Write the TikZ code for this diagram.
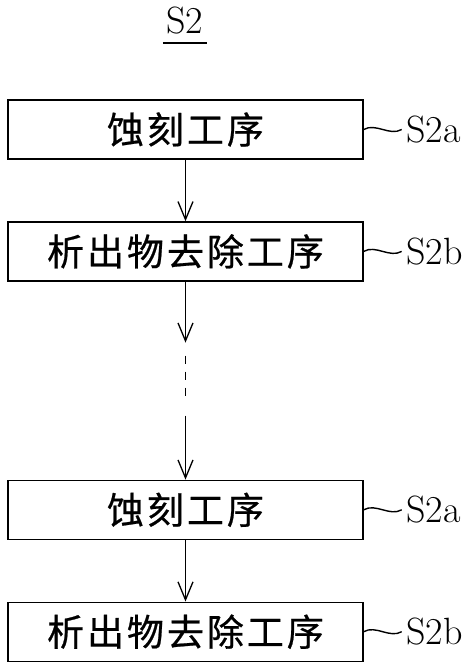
\documentclass[tikz,border=0pt]{standalone}
\usepackage{fontspec}
\newfontfamily\cjk[LetterSpace=8,FakeBold=0.6]{Noto Sans CJK SC}
\usetikzlibrary{arrows.meta,positioning}

\begin{document}
\begin{tikzpicture}
    [x=1pt,y=1pt,line width=1.4pt,>={Straight Barb[length=18pt,width=15pt,line width=1.3pt]},
     stepbox/.style={draw,minimum width=355pt,minimum height=59pt,inner sep=0pt,
       font=\cjk\fontsize{37}{37}\selectfont},
     tag/.style={inner sep=0pt,font=\fontsize{38}{38}\selectfont}]
    \useasboundingbox (0,0) rectangle (474,-665);
    \node (title) [inner sep=0pt,font=\fontsize{38}{38}\selectfont] at (185,-21) {S2};
    \draw ([xshift=-3pt,yshift=-9pt]title.base west) -- ([xshift=3pt,yshift=-9pt]title.base east);

    \begin{scope}[node distance=61.5pt]
      \node[stepbox] (e1) at (185.5,-129.5) {蚀刻工序};
      \node[stepbox] (r1) [below=of e1] {析出物去除工序};
      \node[stepbox] (e2) [below=198pt of r1] {蚀刻工序};
      \node[stepbox] (r2) [below=of e2] {析出物去除工序};
    \end{scope}

    % step labels
    \foreach \n / \t in {e1/S2a,r1/S2b,e2/S2a,r2/S2b} {
      \node[tag] (l\n) [right=42pt of \n] {\t};
      \draw (\n.east) .. controls +(12,7) and +(-12,-7) .. ([xshift=-4pt]l\n.west);
    }

    \coordinate (g1) at ([yshift=-61pt]r1.south);
    \coordinate (g2) at ([yshift=64pt]e2.north);
    \draw[->] (e1) -- (r1);
    \draw[->] (r1) -- (g1);
    \draw[dash pattern=on 8pt off 8pt] ([yshift=-13pt]g1) -- ([yshift=20pt]g2);
    \draw[->] (g2) -- (e2);
    \draw[->] (e2) -- (r2);
  \end{tikzpicture}
\end{document}
